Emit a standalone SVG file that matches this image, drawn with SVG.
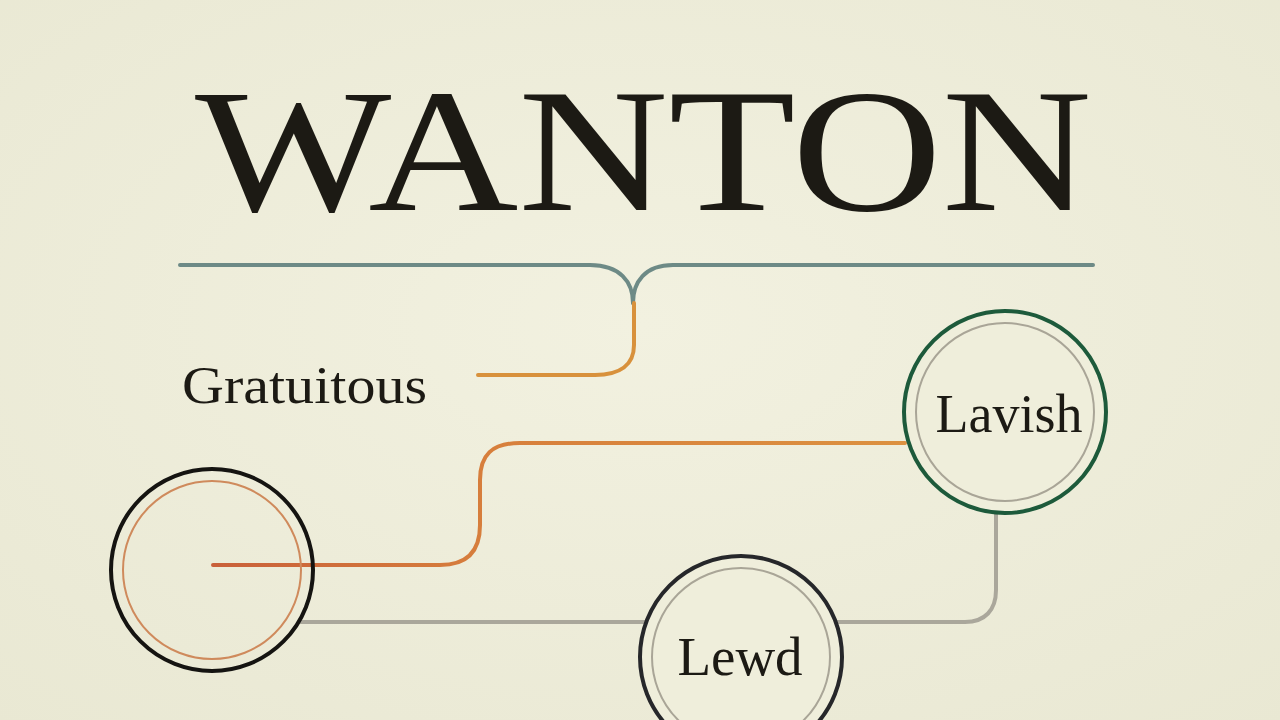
<svg xmlns="http://www.w3.org/2000/svg" width="1280" height="720" viewBox="0 0 1280 720">
<defs>
<radialGradient id="bg" cx="50%" cy="45%" r="75%">
<stop offset="0" stop-color="#f2f1e0"/>
<stop offset="1" stop-color="#e9e8d3"/>
</radialGradient>
<linearGradient id="og" x1="213" y1="0" x2="905" y2="0" gradientUnits="userSpaceOnUse">
<stop offset="0" stop-color="#c9603a"/>
<stop offset="0.4" stop-color="#d77f3c"/>
<stop offset="1" stop-color="#dc9140"/>
</linearGradient>
<style>
.lbl{font-family:"Liberation Serif","Times New Roman",serif;fill:#1c1a14}
.teal{fill:none;stroke:#6d8a86;stroke-width:4;stroke-linecap:round}
.gray{fill:none;stroke:#aaa79b;stroke-width:4}
.node{fill:#efeedb}
.inner{fill:none;stroke:#a9a597;stroke-width:2}
</style>
</defs>
<rect width="1280" height="720" fill="url(#bg)"/>
<text class="lbl" x="195" y="210" font-size="176" textLength="897" lengthAdjust="spacingAndGlyphs">WANTON</text>
<g id="connectors">
<path class="teal" d="M180,265 H590 C620,265 633,282 633,303"/>
<path class="teal" d="M1093,265 H673 C645,265 633,282 633,303"/>
<path d="M634,303 V345 C634,365 620,375 595,375 H478" fill="none" stroke="#d8913c" stroke-width="4" stroke-linecap="round"/>
<path d="M213,565 H440 C468,565 480,550 480,525 V480 C480,455 492,443 520,443 H905" fill="none" stroke="url(#og)" stroke-width="4" stroke-linecap="round"/>
<path class="gray" d="M300,622 H965 C985,622 996,610 996,590 V512"/>
</g>
<g id="node-gratuitous">
<text class="lbl" x="182" y="403" font-size="52" textLength="245" lengthAdjust="spacingAndGlyphs">Gratuitous</text>
</g>
<g id="node-left">
<circle cx="212" cy="570" r="101" fill="none" stroke="#151411" stroke-width="4"/>
<circle cx="212" cy="570" r="89" fill="none" stroke="#cf8a5c" stroke-width="2"/>
</g>
<g id="node-lavish">
<circle class="node" cx="1005" cy="412" r="101" stroke="#1d5a3b" stroke-width="4"/>
<circle class="inner" cx="1005" cy="412" r="89"/>
<text class="lbl" x="1009" y="432" font-size="54" text-anchor="middle">Lavish</text>
</g>
<g id="node-lewd">
<circle class="node" cx="741" cy="657" r="101" stroke="#26272a" stroke-width="4"/>
<circle class="inner" cx="741" cy="657" r="89"/>
<text class="lbl" x="740" y="675" font-size="55" text-anchor="middle">Lewd</text>
</g>
</svg>
